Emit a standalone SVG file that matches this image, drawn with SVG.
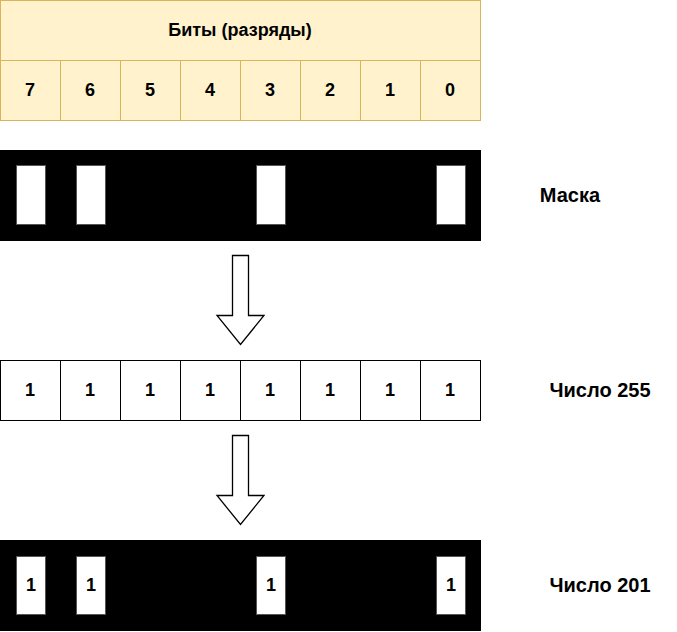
<svg xmlns="http://www.w3.org/2000/svg" width="677" height="632" viewBox="0 0 677 632">
<style>
text{font-family:"Liberation Sans",Arial,sans-serif;font-weight:bold;font-size:18px;fill:#000;text-anchor:middle;dominant-baseline:central}
.y{fill:#fff2cc;stroke:#d6b656;stroke-width:1}
.w{fill:#fff;stroke:#000;stroke-width:1}
.b{fill:#000;stroke:#000}
.m{fill:#fff;stroke:#555;stroke-width:1}
.lbl{font-size:20px}
</style>
<g id="header">
<rect class="y" x="0.5" y="0.5" width="480" height="60"/>
<text x="240" y="30">Биты (разряды)</text>
<rect class="y" x="0.5" y="60.5" width="60" height="60"/><text x="30" y="90">7</text>
<rect class="y" x="60.5" y="60.5" width="60" height="60"/><text x="90" y="90">6</text>
<rect class="y" x="120.5" y="60.5" width="60" height="60"/><text x="150" y="90">5</text>
<rect class="y" x="180.5" y="60.5" width="60" height="60"/><text x="210" y="90">4</text>
<rect class="y" x="240.5" y="60.5" width="60" height="60"/><text x="270" y="90">3</text>
<rect class="y" x="300.5" y="60.5" width="60" height="60"/><text x="330" y="90">2</text>
<rect class="y" x="360.5" y="60.5" width="60" height="60"/><text x="390" y="90">1</text>
<rect class="y" x="420.5" y="60.5" width="60" height="60"/><text x="450" y="90">0</text>
</g>
<g id="mask">
<rect class="b" x="0.5" y="150.5" width="480" height="90"/>
<rect class="m" x="16.5" y="165.5" width="29" height="59"/>
<rect class="m" x="76.5" y="165.5" width="29" height="59"/>
<rect class="m" x="256.5" y="165.5" width="29" height="59"/>
<rect class="m" x="436.5" y="165.5" width="29" height="59"/>
</g>
<g id="label-mask"><text class="lbl" x="570" y="195">Маска</text></g>
<g id="num255">
<rect class="w" x="0.5" y="360.5" width="60" height="60"/><text x="30" y="390">1</text>
<rect class="w" x="60.5" y="360.5" width="60" height="60"/><text x="90" y="390">1</text>
<rect class="w" x="120.5" y="360.5" width="60" height="60"/><text x="150" y="390">1</text>
<rect class="w" x="180.5" y="360.5" width="60" height="60"/><text x="210" y="390">1</text>
<rect class="w" x="240.5" y="360.5" width="60" height="60"/><text x="270" y="390">1</text>
<rect class="w" x="300.5" y="360.5" width="60" height="60"/><text x="330" y="390">1</text>
<rect class="w" x="360.5" y="360.5" width="60" height="60"/><text x="390" y="390">1</text>
<rect class="w" x="420.5" y="360.5" width="60" height="60"/><text x="450" y="390">1</text>
</g>
<g id="label-255"><text class="lbl" x="600" y="390">Число 255</text></g>
<g id="num201">
<rect class="b" x="0.5" y="540.5" width="480" height="90"/>
<rect class="m" x="16.5" y="556.5" width="29" height="58"/><text x="31" y="585">1</text>
<rect class="m" x="76.5" y="556.5" width="29" height="58"/><text x="91" y="585">1</text>
<rect class="m" x="256.5" y="556.5" width="29" height="58"/><text x="271" y="585">1</text>
<rect class="m" x="436.5" y="556.5" width="29" height="58"/><text x="451" y="585">1</text>
</g>
<g id="label-201"><text class="lbl" x="600" y="585">Число 201</text></g>
<g id="connectors" fill="#fff" stroke="#000" stroke-width="1.3">
<path d="M232.5,255.5 H248.5 V315.5 H264 L240.5,344.5 L217,315.5 H232.5 Z"/>
<path d="M232.5,435.5 H248.5 V495.5 H264 L240.5,524.5 L217,495.5 H232.5 Z"/>
</g>
</svg>
